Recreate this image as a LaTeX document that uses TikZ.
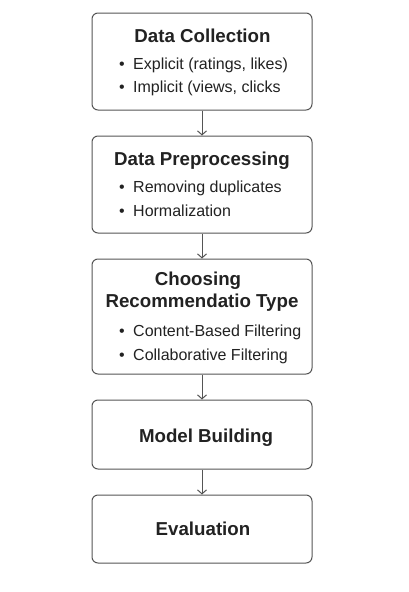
\documentclass[tikz,border=0pt]{standalone}
\usepackage{fontspec}
\setmainfont{Liberation Sans}
\usetikzlibrary{arrows.meta}
\definecolor{edge}{HTML}{555555}
\definecolor{ink}{HTML}{222222}
\tikzset{
  box/.style={draw=edge, line width=1pt, rounded corners=6pt, minimum width=220pt, inner sep=0pt},
  title/.style={anchor=base, text=ink, font=\fontsize{18.7}{20}\selectfont\bfseries, inner sep=0pt},
  item/.style={anchor=base west, text=ink, font=\fontsize{16}{17}\selectfont, inner sep=0pt},
  dot/.style={anchor=base, text=ink, font=\fontsize{16}{17}\selectfont, inner sep=0pt},
  flow/.style={draw=edge, line width=1pt, -{Straight Barb[length=4pt,width=9pt]}}
}
\begin{document}
\begin{tikzpicture}[x=1pt,y=-1pt]
\useasboundingbox[fill=white] (0,0) rectangle (409,592);
% boxes
\node[box, minimum height=97pt] (b1) at (202,61.5) {};
\node[box, minimum height=97pt] (b2) at (202,184.5) {};
\node[box, minimum height=115pt] (b3) at (202,316.5) {};
\node[box, minimum height=69pt] (b4) at (202,434.5) {};
\node[box, minimum height=68pt] (b5) at (202,529) {};
% box 1
\node[title] (t1) at (202.5,42.5) {Data Collection};
\node[dot] (d11) at (122,69.3) {•};
\node[item] (i11) at (133,69.3) {Explicit (ratings, likes)};
\node[dot] (d12) at (122,92.7) {•};
\node[item] (i12) at (133,92.7) {Implicit (views, clicks};
% box 2
\node[title] (t2) at (202,165) {Data Preprocessing};
\node[dot] (d21) at (122,192.7) {•};
\node[item] (i21) at (133,192.7) {Removing duplicates};
\node[dot] (d22) at (122,216) {•};
\node[item] (i22) at (133,216) {Hormalization};
% box 3
\node[title] (t3a) at (198,285.7) {Choosing};
\node[title] (t3b) at (202,307.3) {Recommendatio Type};
\node[dot] (d31) at (122,336) {•};
\node[item] (i31) at (133,336) {Content-Based Filtering};
\node[dot] (d32) at (122,360) {•};
\node[item] (i32) at (133,360) {Collaborative Filtering};
% box 4, 5
\node[title] (t4) at (206,442.3) {Model Building};
\node[title] (t5) at (203,535.7) {Evaluation};
% connectors
\draw[flow] (b1) -- (b2);
\draw[flow] (b2) -- (b3);
\draw[flow] (b3) -- (b4);
\draw[flow] (b4) -- (b5);
\end{tikzpicture}
\end{document}
